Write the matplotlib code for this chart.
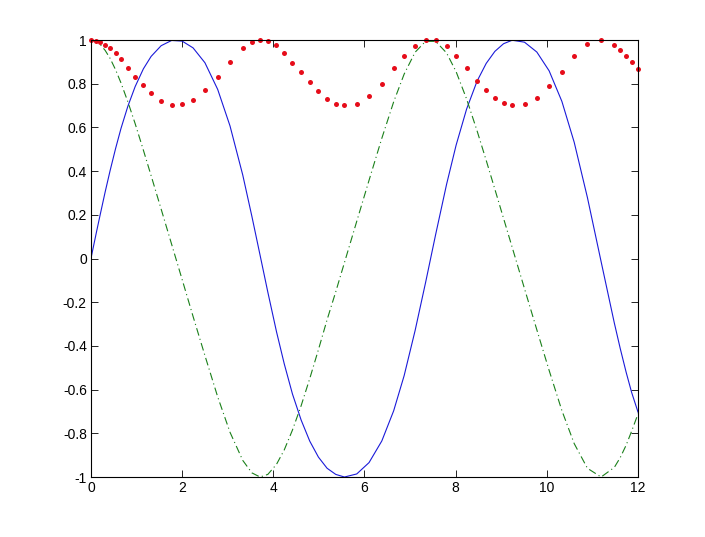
import matplotlib
matplotlib.use("Agg")
import matplotlib.pyplot as plt
import numpy as np

# solver output points
t = [0.0, 0.12, 0.2, 0.31, 0.42, 0.54, 0.66, 0.81, 0.97, 1.15,
     1.32, 1.54, 1.77, 2.0, 2.24, 2.5, 2.78, 3.05, 3.33, 3.53,
     3.71, 3.88, 4.07, 4.24, 4.42, 4.61, 4.8, 4.99, 5.18, 5.37,
     5.56, 5.83, 6.1, 6.38, 6.64, 6.87, 7.11, 7.34, 7.56, 7.8,
     8.01, 8.24, 8.47, 8.67, 8.86, 9.05, 9.24, 9.51, 9.78, 10.05,
     10.33, 10.6, 10.89, 11.19, 11.48, 11.61, 11.74, 11.86, 12.0]

y1 = [0.0, 0.12, 0.198, 0.303, 0.402, 0.503, 0.596, 0.697, 0.787, 0.868,
      0.925, 0.974, 0.998, 0.995, 0.964, 0.896, 0.774, 0.607, 0.382, 0.193,
      0.015, -0.154, -0.335, -0.482, -0.62, -0.739, -0.836, -0.909, -0.96, -0.988,
      -1.0, -0.986, -0.934, -0.835, -0.697, -0.536, -0.33, -0.11, 0.109, 0.339,
      0.519, 0.684, 0.812, 0.893, 0.948, 0.983, 0.999, 0.99, 0.945, 0.859,
      0.719, 0.532, 0.279, -0.014, -0.295, -0.412, -0.521, -0.613, -0.703]

y2 = [1.0, 0.993, 0.98, 0.953, 0.916, 0.864, 0.803, 0.717, 0.617, 0.496,
      0.379, 0.226, 0.065, -0.096, -0.265, -0.444, -0.633, -0.795, -0.924, -0.981,
      -1.0, -0.988, -0.942, -0.876, -0.785, -0.674, -0.549, -0.417, -0.28, -0.152,
      -0.019, 0.17, 0.358, 0.55, 0.717, 0.844, 0.944, 0.994, 0.994, 0.941,
      0.855, 0.73, 0.584, 0.449, 0.317, 0.184, 0.051, -0.138, -0.326, -0.512,
      -0.696, -0.847, -0.96, -1.0, -0.956, -0.911, -0.854, -0.79, -0.711]

y3 = [1.0, 0.997, 0.99, 0.978, 0.962, 0.94, 0.913, 0.872, 0.829, 0.793,
      0.757, 0.721, 0.703, 0.706, 0.724, 0.77, 0.832, 0.901, 0.962, 0.989,
      0.999, 0.994, 0.976, 0.941, 0.896, 0.854, 0.806, 0.765, 0.73, 0.708,
      0.701, 0.708, 0.745, 0.8, 0.87, 0.927, 0.971, 0.999, 0.999, 0.971,
      0.928, 0.872, 0.814, 0.77, 0.735, 0.713, 0.701, 0.706, 0.735, 0.788,
      0.852, 0.927, 0.98, 0.999, 0.976, 0.953, 0.927, 0.898, 0.867]

xticks = [0, 2, 4, 6, 8, 10, 12]
yticks = [-1, -0.8, -0.6, -0.4, -0.2, 0, 0.2, 0.4, 0.6, 0.8, 1]
ylabels = ['-1', '-0.8', '-0.6', '-0.4', '-0.2', '0', '0.2', '0.4', '0.6', '0.8', '1']

plt.rcParams['font.family'] = ['Liberation Sans', 'DejaVu Sans']

fig = plt.figure(figsize=(7.05, 5.37), dpi=100)
ax = fig.add_axes([0.129, 0.1117, 0.776, 0.8138])

ax.plot(t, y1, '-', color=(0.1, 0.1, 0.85), lw=0.8)
ax.plot(t, y2, color=(0.1, 0.5, 0.1), lw=0.8, dashes=(7, 3, 1, 3))
ax.plot(t, y3, 'o', color=(0.9, 0.05, 0.1), ms=3.6, mec='none', clip_on=False)

ax.set_xlim(0, 12)
ax.set_ylim(-1, 1)
ax.set_xticks(xticks)
ax.set_xticklabels([str(v) for v in xticks])
ax.set_yticks(yticks)
ax.set_yticklabels(ylabels)
ax.tick_params(direction='in', length=5, width=0.6, top=True, right=True,
               labelsize=10, pad=3)
for s in ax.spines.values():
    s.set_linewidth(0.8)

fig.savefig('out.png', dpi=100)
